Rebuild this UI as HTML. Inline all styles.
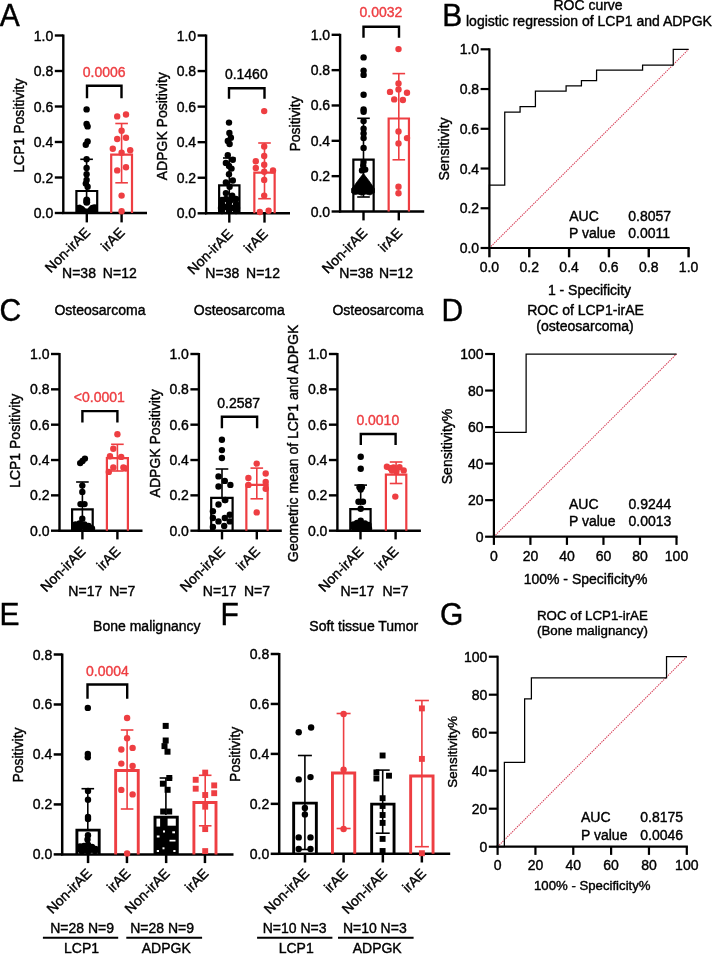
<!DOCTYPE html>
<html><head><meta charset="utf-8"><style>
html,body{margin:0;padding:0;background:#fff;width:713px;height:954px;overflow:hidden}
svg{display:block;will-change:transform}
text{font-family:"Liberation Sans", sans-serif}
</style></head><body>
<svg width="713" height="954" viewBox="0 0 713 954" font-family='"Liberation Sans", sans-serif'>
<rect width="713" height="954" fill="#fff"/>
<text transform="translate(-0.3,25.8) scale(1,1.075)" x="0" y="0" font-size="30" fill="#000" stroke="#000" stroke-width="0.4">A</text>
<text transform="translate(442.2,26.0) scale(1,1.075)" x="0" y="0" font-size="30" fill="#000" stroke="#000" stroke-width="0.4">B</text>
<text transform="translate(-0.5,320.9) scale(1,1.075)" x="0" y="0" font-size="30" fill="#000" stroke="#000" stroke-width="0.4">C</text>
<text transform="translate(441.6,320.8) scale(1,1.075)" x="0" y="0" font-size="30" fill="#000" stroke="#000" stroke-width="0.4">D</text>
<text transform="translate(-0.5,625.2) scale(1,1.075)" x="0" y="0" font-size="30" fill="#000" stroke="#000" stroke-width="0.4">E</text>
<text transform="translate(220.5,625.0) scale(1,1.075)" x="0" y="0" font-size="30" fill="#000" stroke="#000" stroke-width="0.4">F</text>
<text transform="translate(440.0,625.4) scale(1,1.075)" x="0" y="0" font-size="30" fill="#000" stroke="#000" stroke-width="0.4">G</text>
<line x1="63.30" y1="34.50" x2="63.30" y2="214.00" stroke="#000" stroke-width="2.4" />
<line x1="62.20" y1="213.00" x2="147.00" y2="213.00" stroke="#000" stroke-width="2.4" />
<line x1="54.80" y1="213.00" x2="63.30" y2="213.00" stroke="#000" stroke-width="2.4" />
<text x="53.30" y="218.00" font-size="14" text-anchor="end" fill="#000" stroke="#000" stroke-width="0.4" >0.0</text>
<line x1="54.80" y1="177.50" x2="63.30" y2="177.50" stroke="#000" stroke-width="2.4" />
<text x="53.30" y="182.50" font-size="14" text-anchor="end" fill="#000" stroke="#000" stroke-width="0.4" >0.2</text>
<line x1="54.80" y1="142.00" x2="63.30" y2="142.00" stroke="#000" stroke-width="2.4" />
<text x="53.30" y="147.00" font-size="14" text-anchor="end" fill="#000" stroke="#000" stroke-width="0.4" >0.4</text>
<line x1="54.80" y1="106.50" x2="63.30" y2="106.50" stroke="#000" stroke-width="2.4" />
<text x="53.30" y="111.50" font-size="14" text-anchor="end" fill="#000" stroke="#000" stroke-width="0.4" >0.6</text>
<line x1="54.80" y1="71.00" x2="63.30" y2="71.00" stroke="#000" stroke-width="2.4" />
<text x="53.30" y="76.00" font-size="14" text-anchor="end" fill="#000" stroke="#000" stroke-width="0.4" >0.8</text>
<line x1="54.80" y1="35.50" x2="63.30" y2="35.50" stroke="#000" stroke-width="2.4" />
<text x="53.30" y="40.50" font-size="14" text-anchor="end" fill="#000" stroke="#000" stroke-width="0.4" >1.0</text>
<path d="M76.40,213.00 L76.40,191.00 L97.20,191.00 L97.20,213.00" fill="none" stroke="#000" stroke-width="2.2" stroke-linejoin="miter"/>
<path d="M111.20,213.00 L111.20,154.60 L132.00,154.60 L132.00,213.00" fill="none" stroke="#EE3E42" stroke-width="2.2" stroke-linejoin="miter"/>
<line x1="86.80" y1="213.00" x2="86.80" y2="222.40" stroke="#000" stroke-width="2.4" />
<line x1="121.60" y1="213.00" x2="121.60" y2="222.40" stroke="#000" stroke-width="2.4" />
<circle cx="86.60" cy="109.40" r="3.2" fill="#000"/>
<circle cx="86.60" cy="123.90" r="3.2" fill="#000"/>
<circle cx="87.60" cy="126.40" r="3.2" fill="#000"/>
<circle cx="87.60" cy="141.50" r="3.2" fill="#000"/>
<circle cx="85.80" cy="144.70" r="3.2" fill="#000"/>
<circle cx="86.60" cy="159.30" r="3.2" fill="#000"/>
<circle cx="86.60" cy="167.90" r="3.2" fill="#000"/>
<circle cx="86.60" cy="174.20" r="3.2" fill="#000"/>
<circle cx="86.60" cy="179.90" r="3.2" fill="#000"/>
<circle cx="85.80" cy="183.60" r="3.2" fill="#000"/>
<circle cx="87.60" cy="186.80" r="3.2" fill="#000"/>
<line x1="86.60" y1="159.30" x2="86.60" y2="200.00" stroke="#000" stroke-width="1.6" />
<line x1="80.30" y1="159.30" x2="92.90" y2="159.30" stroke="#000" stroke-width="1.6" />
<circle cx="86.70" cy="200.00" r="3.5" fill="#000"/>
<circle cx="86.70" cy="202.30" r="3.5" fill="#000"/>
<polygon points="76.2,213 76.2,205.2 80,204.5 83.5,206.2 85.8,208.4 87.6,208.4 90.5,205.3 94,204.2 97.4,204.5 97.4,213" fill="#000"/>
<circle cx="117.20" cy="116.40" r="3.2" fill="#EE3E42"/>
<circle cx="126.00" cy="114.50" r="3.2" fill="#EE3E42"/>
<circle cx="121.60" cy="130.80" r="3.2" fill="#EE3E42"/>
<circle cx="117.20" cy="139.00" r="3.2" fill="#EE3E42"/>
<circle cx="126.00" cy="137.70" r="3.2" fill="#EE3E42"/>
<circle cx="112.80" cy="148.80" r="3.2" fill="#EE3E42"/>
<circle cx="121.60" cy="152.80" r="3.2" fill="#EE3E42"/>
<circle cx="130.20" cy="150.30" r="3.2" fill="#EE3E42"/>
<circle cx="117.20" cy="170.40" r="3.2" fill="#EE3E42"/>
<circle cx="126.00" cy="167.30" r="3.2" fill="#EE3E42"/>
<circle cx="121.60" cy="195.60" r="3.2" fill="#EE3E42"/>
<circle cx="121.60" cy="211.30" r="3.2" fill="#EE3E42"/>
<line x1="121.60" y1="123.50" x2="121.60" y2="182.80" stroke="#EE3E42" stroke-width="1.6" />
<line x1="115.30" y1="123.50" x2="127.90" y2="123.50" stroke="#EE3E42" stroke-width="1.6" />
<line x1="115.30" y1="182.80" x2="127.90" y2="182.80" stroke="#EE3E42" stroke-width="1.6" />
<polyline points="87.00,98.30 87.00,85.70 121.50,85.70 121.50,98.30" fill="none" stroke="#000" stroke-width="2.4" stroke-linejoin="miter"/>
<text x="104.20" y="77.20" font-size="14" text-anchor="middle" fill="#EE3E42" stroke="#EE3E42" stroke-width="0.4" >0.0006</text>
<text x="24.40" y="125.60" font-size="14" text-anchor="middle" fill="#000" stroke="#000" stroke-width="0.4" transform="rotate(-90 24.40 125.60)" >LCP1 Positivity</text>
<text x="91.00" y="233.30" font-size="14" text-anchor="end" fill="#000" stroke="#000" stroke-width="0.4" transform="rotate(-45 91.00 233.30)" >Non-irAE</text>
<text x="125.50" y="233.30" font-size="14" text-anchor="end" fill="#000" stroke="#000" stroke-width="0.4" transform="rotate(-45 125.50 233.30)" >irAE</text>
<text x="79.00" y="277.70" font-size="14" text-anchor="middle" fill="#000" stroke="#000" stroke-width="0.4" >N=38</text>
<text x="119.80" y="277.70" font-size="14" text-anchor="middle" fill="#000" stroke="#000" stroke-width="0.4" >N=12</text>
<line x1="206.10" y1="34.50" x2="206.10" y2="214.30" stroke="#000" stroke-width="2.4" />
<line x1="205.00" y1="213.30" x2="290.00" y2="213.30" stroke="#000" stroke-width="2.4" />
<line x1="197.60" y1="213.30" x2="206.10" y2="213.30" stroke="#000" stroke-width="2.4" />
<text x="196.10" y="218.30" font-size="14" text-anchor="end" fill="#000" stroke="#000" stroke-width="0.4" >0.0</text>
<line x1="197.60" y1="177.74" x2="206.10" y2="177.74" stroke="#000" stroke-width="2.4" />
<text x="196.10" y="182.74" font-size="14" text-anchor="end" fill="#000" stroke="#000" stroke-width="0.4" >0.2</text>
<line x1="197.60" y1="142.18" x2="206.10" y2="142.18" stroke="#000" stroke-width="2.4" />
<text x="196.10" y="147.18" font-size="14" text-anchor="end" fill="#000" stroke="#000" stroke-width="0.4" >0.4</text>
<line x1="197.60" y1="106.62" x2="206.10" y2="106.62" stroke="#000" stroke-width="2.4" />
<text x="196.10" y="111.62" font-size="14" text-anchor="end" fill="#000" stroke="#000" stroke-width="0.4" >0.6</text>
<line x1="197.60" y1="71.06" x2="206.10" y2="71.06" stroke="#000" stroke-width="2.4" />
<text x="196.10" y="76.06" font-size="14" text-anchor="end" fill="#000" stroke="#000" stroke-width="0.4" >0.8</text>
<line x1="197.60" y1="35.50" x2="206.10" y2="35.50" stroke="#000" stroke-width="2.4" />
<text x="196.10" y="40.50" font-size="14" text-anchor="end" fill="#000" stroke="#000" stroke-width="0.4" >1.0</text>
<path d="M219.15,213.30 L219.15,185.40 L239.45,185.40 L239.45,213.30" fill="none" stroke="#000" stroke-width="2.2" stroke-linejoin="miter"/>
<path d="M254.35,213.30 L254.35,172.60 L274.65,172.60 L274.65,213.30" fill="none" stroke="#EE3E42" stroke-width="2.2" stroke-linejoin="miter"/>
<line x1="229.30" y1="213.30" x2="229.30" y2="222.60" stroke="#000" stroke-width="2.4" />
<line x1="264.50" y1="213.30" x2="264.50" y2="222.60" stroke="#000" stroke-width="2.4" />
<circle cx="229.00" cy="122.60" r="3.2" fill="#000"/>
<circle cx="229.40" cy="133.00" r="3.2" fill="#000"/>
<circle cx="230.90" cy="137.70" r="3.2" fill="#000"/>
<circle cx="227.80" cy="140.90" r="3.2" fill="#000"/>
<circle cx="229.60" cy="144.00" r="3.2" fill="#000"/>
<circle cx="227.80" cy="155.30" r="3.2" fill="#000"/>
<circle cx="232.80" cy="159.70" r="3.2" fill="#000"/>
<circle cx="225.90" cy="162.90" r="3.2" fill="#000"/>
<circle cx="229.00" cy="166.00" r="3.2" fill="#000"/>
<circle cx="231.50" cy="168.60" r="3.2" fill="#000"/>
<circle cx="229.00" cy="174.20" r="3.2" fill="#000"/>
<circle cx="225.90" cy="182.40" r="3.2" fill="#000"/>
<circle cx="232.80" cy="180.50" r="3.2" fill="#000"/>
<circle cx="229.60" cy="186.80" r="3.2" fill="#000"/>
<circle cx="225.90" cy="193.10" r="3.2" fill="#000"/>
<circle cx="232.20" cy="195.60" r="3.2" fill="#000"/>
<circle cx="222.00" cy="200.00" r="3.2" fill="#000"/>
<circle cx="226.00" cy="199.00" r="3.2" fill="#000"/>
<circle cx="231.00" cy="200.00" r="3.2" fill="#000"/>
<circle cx="236.00" cy="199.00" r="3.2" fill="#000"/>
<circle cx="222.00" cy="204.00" r="3.2" fill="#000"/>
<circle cx="229.00" cy="203.00" r="3.2" fill="#000"/>
<circle cx="236.00" cy="204.00" r="3.2" fill="#000"/>
<circle cx="221.00" cy="208.00" r="3.2" fill="#000"/>
<circle cx="226.00" cy="207.00" r="3.2" fill="#000"/>
<circle cx="232.00" cy="208.00" r="3.2" fill="#000"/>
<circle cx="237.00" cy="208.00" r="3.2" fill="#000"/>
<circle cx="222.00" cy="211.00" r="3.2" fill="#000"/>
<circle cx="229.00" cy="211.00" r="3.2" fill="#000"/>
<circle cx="236.00" cy="211.00" r="3.2" fill="#000"/>
<line x1="229.30" y1="158.00" x2="229.30" y2="212.00" stroke="#000" stroke-width="1.6" />
<line x1="223.00" y1="158.00" x2="235.60" y2="158.00" stroke="#000" stroke-width="1.6" />
<circle cx="264.20" cy="111.10" r="3.2" fill="#EE3E42"/>
<circle cx="264.20" cy="146.50" r="3.2" fill="#EE3E42"/>
<circle cx="264.20" cy="156.00" r="3.2" fill="#EE3E42"/>
<circle cx="255.80" cy="161.30" r="3.2" fill="#EE3E42"/>
<circle cx="264.20" cy="164.80" r="3.2" fill="#EE3E42"/>
<circle cx="255.80" cy="167.90" r="3.2" fill="#EE3E42"/>
<circle cx="264.20" cy="171.70" r="3.2" fill="#EE3E42"/>
<circle cx="273.00" cy="170.40" r="3.2" fill="#EE3E42"/>
<circle cx="264.20" cy="179.90" r="3.2" fill="#EE3E42"/>
<circle cx="264.20" cy="195.60" r="3.2" fill="#EE3E42"/>
<circle cx="259.80" cy="212.00" r="3.2" fill="#EE3E42"/>
<circle cx="268.60" cy="210.70" r="3.2" fill="#EE3E42"/>
<line x1="264.50" y1="143.00" x2="264.50" y2="198.70" stroke="#EE3E42" stroke-width="1.6" />
<line x1="258.20" y1="143.00" x2="270.80" y2="143.00" stroke="#EE3E42" stroke-width="1.6" />
<line x1="258.20" y1="198.70" x2="270.80" y2="198.70" stroke="#EE3E42" stroke-width="1.6" />
<polyline points="229.00,98.70 229.00,88.20 264.50,88.20 264.50,98.70" fill="none" stroke="#000" stroke-width="2.4" stroke-linejoin="miter"/>
<text x="246.30" y="79.20" font-size="14" text-anchor="middle" fill="#000" stroke="#000" stroke-width="0.4" >0.1460</text>
<text x="166.80" y="126.20" font-size="14" text-anchor="middle" fill="#000" stroke="#000" stroke-width="0.4" transform="rotate(-90 166.80 126.20)" >ADPGK Positivity</text>
<text x="233.50" y="235.00" font-size="14" text-anchor="end" fill="#000" stroke="#000" stroke-width="0.4" transform="rotate(-45 233.50 235.00)" >Non-irAE</text>
<text x="268.50" y="235.00" font-size="14" text-anchor="end" fill="#000" stroke="#000" stroke-width="0.4" transform="rotate(-45 268.50 235.00)" >irAE</text>
<text x="222.30" y="277.70" font-size="14" text-anchor="middle" fill="#000" stroke="#000" stroke-width="0.4" >N=38</text>
<text x="263.00" y="277.70" font-size="14" text-anchor="middle" fill="#000" stroke="#000" stroke-width="0.4" >N=12</text>
<line x1="340.10" y1="33.80" x2="340.10" y2="212.50" stroke="#000" stroke-width="2.4" />
<line x1="339.00" y1="211.50" x2="424.20" y2="211.50" stroke="#000" stroke-width="2.4" />
<line x1="331.60" y1="211.50" x2="340.10" y2="211.50" stroke="#000" stroke-width="2.4" />
<text x="330.10" y="216.50" font-size="14" text-anchor="end" fill="#000" stroke="#000" stroke-width="0.4" >0.0</text>
<line x1="331.60" y1="176.16" x2="340.10" y2="176.16" stroke="#000" stroke-width="2.4" />
<text x="330.10" y="181.16" font-size="14" text-anchor="end" fill="#000" stroke="#000" stroke-width="0.4" >0.2</text>
<line x1="331.60" y1="140.82" x2="340.10" y2="140.82" stroke="#000" stroke-width="2.4" />
<text x="330.10" y="145.82" font-size="14" text-anchor="end" fill="#000" stroke="#000" stroke-width="0.4" >0.4</text>
<line x1="331.60" y1="105.48" x2="340.10" y2="105.48" stroke="#000" stroke-width="2.4" />
<text x="330.10" y="110.48" font-size="14" text-anchor="end" fill="#000" stroke="#000" stroke-width="0.4" >0.6</text>
<line x1="331.60" y1="70.14" x2="340.10" y2="70.14" stroke="#000" stroke-width="2.4" />
<text x="330.10" y="75.14" font-size="14" text-anchor="end" fill="#000" stroke="#000" stroke-width="0.4" >0.8</text>
<line x1="331.60" y1="34.80" x2="340.10" y2="34.80" stroke="#000" stroke-width="2.4" />
<text x="330.10" y="39.80" font-size="14" text-anchor="end" fill="#000" stroke="#000" stroke-width="0.4" >1.0</text>
<path d="M353.35,211.50 L353.35,159.70 L373.65,159.70 L373.65,211.50" fill="none" stroke="#000" stroke-width="2.2" stroke-linejoin="miter"/>
<path d="M388.65,211.50 L388.65,118.50 L408.95,118.50 L408.95,211.50" fill="none" stroke="#EE3E42" stroke-width="2.2" stroke-linejoin="miter"/>
<line x1="363.50" y1="211.50" x2="363.50" y2="220.40" stroke="#000" stroke-width="2.4" />
<line x1="398.80" y1="211.50" x2="398.80" y2="220.40" stroke="#000" stroke-width="2.4" />
<circle cx="363.60" cy="57.40" r="3.2" fill="#000"/>
<circle cx="363.60" cy="70.60" r="3.2" fill="#000"/>
<circle cx="363.60" cy="74.90" r="3.2" fill="#000"/>
<circle cx="363.60" cy="94.70" r="3.2" fill="#000"/>
<circle cx="363.60" cy="109.40" r="3.2" fill="#000"/>
<circle cx="363.60" cy="111.70" r="3.2" fill="#000"/>
<circle cx="363.60" cy="121.10" r="3.2" fill="#000"/>
<circle cx="363.60" cy="128.70" r="3.2" fill="#000"/>
<circle cx="363.60" cy="133.40" r="3.2" fill="#000"/>
<circle cx="363.60" cy="138.10" r="3.2" fill="#000"/>
<circle cx="363.60" cy="147.90" r="3.2" fill="#000"/>
<circle cx="363.50" cy="162.00" r="3.2" fill="#000"/>
<circle cx="363.20" cy="165.50" r="3.2" fill="#000"/>
<circle cx="365.20" cy="169.60" r="3.2" fill="#000"/>
<circle cx="362.00" cy="170.40" r="3.2" fill="#000"/>
<line x1="363.50" y1="118.30" x2="363.50" y2="197.00" stroke="#000" stroke-width="1.6" />
<line x1="357.20" y1="118.30" x2="369.80" y2="118.30" stroke="#000" stroke-width="1.6" />
<line x1="357.20" y1="197.00" x2="369.80" y2="197.00" stroke="#000" stroke-width="1.6" />
<polygon points="363.4,173.6 358,180.5 354,186 351.6,188.6 351.6,192.8 354.5,194.6 358,194 361.5,195.2 366,194 370,195 374.4,192.8 374.4,188.6 372.6,186 368.8,180.5" fill="#000" stroke="#000" stroke-width="0.8" stroke-linejoin="round"/>
<circle cx="398.50" cy="49.10" r="3.2" fill="#EE3E42"/>
<circle cx="398.50" cy="83.40" r="3.2" fill="#EE3E42"/>
<circle cx="398.50" cy="89.40" r="3.2" fill="#EE3E42"/>
<circle cx="390.00" cy="91.90" r="3.2" fill="#EE3E42"/>
<circle cx="407.00" cy="92.80" r="3.2" fill="#EE3E42"/>
<circle cx="394.20" cy="99.40" r="3.2" fill="#EE3E42"/>
<circle cx="402.90" cy="100.00" r="3.2" fill="#EE3E42"/>
<circle cx="398.50" cy="131.50" r="3.2" fill="#EE3E42"/>
<circle cx="407.00" cy="138.10" r="3.2" fill="#EE3E42"/>
<circle cx="398.50" cy="143.40" r="3.2" fill="#EE3E42"/>
<circle cx="398.50" cy="186.80" r="3.2" fill="#EE3E42"/>
<circle cx="398.50" cy="193.20" r="3.2" fill="#EE3E42"/>
<line x1="398.80" y1="73.60" x2="398.80" y2="159.80" stroke="#EE3E42" stroke-width="1.6" />
<line x1="392.50" y1="73.60" x2="405.10" y2="73.60" stroke="#EE3E42" stroke-width="1.6" />
<line x1="392.50" y1="159.80" x2="405.10" y2="159.80" stroke="#EE3E42" stroke-width="1.6" />
<polyline points="363.50,37.70 363.50,26.80 399.00,26.80 399.00,37.70" fill="none" stroke="#000" stroke-width="2.4" stroke-linejoin="miter"/>
<text x="381.00" y="17.30" font-size="14" text-anchor="middle" fill="#EE3E42" stroke="#EE3E42" stroke-width="0.4" >0.0032</text>
<text x="300.30" y="123.90" font-size="14" text-anchor="middle" fill="#000" stroke="#000" stroke-width="0.4" transform="rotate(-90 300.30 123.90)" >Positivity</text>
<text x="368.00" y="234.00" font-size="14" text-anchor="end" fill="#000" stroke="#000" stroke-width="0.4" transform="rotate(-45 368.00 234.00)" >Non-irAE</text>
<text x="403.00" y="234.00" font-size="14" text-anchor="end" fill="#000" stroke="#000" stroke-width="0.4" transform="rotate(-45 403.00 234.00)" >irAE</text>
<text x="356.30" y="277.70" font-size="14" text-anchor="middle" fill="#000" stroke="#000" stroke-width="0.4" >N=38</text>
<text x="396.00" y="277.70" font-size="14" text-anchor="middle" fill="#000" stroke="#000" stroke-width="0.4" >N=12</text>
<line x1="489.40" y1="248.00" x2="688.60" y2="49.30" stroke="#D63C55" stroke-width="1.1" stroke-dasharray="1.3 1.0"/>
<polyline points="489.40,248.00 489.40,185.21 504.74,185.21 504.74,112.09 520.08,112.09 520.08,106.72 535.42,106.72 535.42,91.23 566.09,91.23 566.09,85.86 581.43,85.86 581.43,80.69 596.57,80.69 596.57,70.16 642.58,70.16 642.58,65.00 673.26,65.00 673.26,49.30 688.60,49.30" fill="none" stroke="#000" stroke-width="1.25" />
<line x1="489.40" y1="48.30" x2="489.40" y2="249.00" stroke="#000" stroke-width="2.2" />
<line x1="488.30" y1="248.00" x2="689.70" y2="248.00" stroke="#000" stroke-width="2.2" />
<line x1="480.60" y1="248.00" x2="489.40" y2="248.00" stroke="#000" stroke-width="2.2" />
<text x="479.10" y="253.00" font-size="14" text-anchor="end" fill="#000" stroke="#000" stroke-width="0.4" >0.0</text>
<line x1="489.40" y1="248.00" x2="489.40" y2="257.30" stroke="#000" stroke-width="2.4" />
<text x="489.40" y="271.80" font-size="14" text-anchor="middle" fill="#000" stroke="#000" stroke-width="0.4" >0.0</text>
<line x1="480.60" y1="208.26" x2="489.40" y2="208.26" stroke="#000" stroke-width="2.2" />
<text x="479.10" y="213.26" font-size="14" text-anchor="end" fill="#000" stroke="#000" stroke-width="0.4" >0.2</text>
<line x1="529.24" y1="248.00" x2="529.24" y2="257.30" stroke="#000" stroke-width="2.4" />
<text x="529.24" y="271.80" font-size="14" text-anchor="middle" fill="#000" stroke="#000" stroke-width="0.4" >0.2</text>
<line x1="480.60" y1="168.52" x2="489.40" y2="168.52" stroke="#000" stroke-width="2.2" />
<text x="479.10" y="173.52" font-size="14" text-anchor="end" fill="#000" stroke="#000" stroke-width="0.4" >0.4</text>
<line x1="569.08" y1="248.00" x2="569.08" y2="257.30" stroke="#000" stroke-width="2.4" />
<text x="569.08" y="271.80" font-size="14" text-anchor="middle" fill="#000" stroke="#000" stroke-width="0.4" >0.4</text>
<line x1="480.60" y1="128.78" x2="489.40" y2="128.78" stroke="#000" stroke-width="2.2" />
<text x="479.10" y="133.78" font-size="14" text-anchor="end" fill="#000" stroke="#000" stroke-width="0.4" >0.6</text>
<line x1="608.92" y1="248.00" x2="608.92" y2="257.30" stroke="#000" stroke-width="2.4" />
<text x="608.92" y="271.80" font-size="14" text-anchor="middle" fill="#000" stroke="#000" stroke-width="0.4" >0.6</text>
<line x1="480.60" y1="89.04" x2="489.40" y2="89.04" stroke="#000" stroke-width="2.2" />
<text x="479.10" y="94.04" font-size="14" text-anchor="end" fill="#000" stroke="#000" stroke-width="0.4" >0.8</text>
<line x1="648.76" y1="248.00" x2="648.76" y2="257.30" stroke="#000" stroke-width="2.4" />
<text x="648.76" y="271.80" font-size="14" text-anchor="middle" fill="#000" stroke="#000" stroke-width="0.4" >0.8</text>
<line x1="480.60" y1="49.30" x2="489.40" y2="49.30" stroke="#000" stroke-width="2.2" />
<text x="479.10" y="54.30" font-size="14" text-anchor="end" fill="#000" stroke="#000" stroke-width="0.4" >1.0</text>
<line x1="688.60" y1="248.00" x2="688.60" y2="257.30" stroke="#000" stroke-width="2.4" />
<text x="688.60" y="271.80" font-size="14" text-anchor="middle" fill="#000" stroke="#000" stroke-width="0.4" >1.0</text>
<text x="589.50" y="294.80" font-size="14" text-anchor="middle" fill="#000" stroke="#000" stroke-width="0.4" >1 - Specificity</text>
<text x="449.50" y="148.90" font-size="14" text-anchor="middle" fill="#000" stroke="#000" stroke-width="0.4" transform="rotate(-90 449.50 148.90)" >Sensitivity</text>
<text x="569.20" y="220.80" font-size="14" text-anchor="start" fill="#000" stroke="#000" stroke-width="0.4" >AUC</text>
<text x="628.30" y="220.80" font-size="14" text-anchor="start" fill="#000" stroke="#000" stroke-width="0.4" >0.8057</text>
<text x="569.00" y="238.40" font-size="14" text-anchor="start" fill="#000" stroke="#000" stroke-width="0.4" >P value</text>
<text x="628.30" y="238.40" font-size="14" text-anchor="start" fill="#000" stroke="#000" stroke-width="0.4" >0.0011</text>
<text x="588.00" y="10.20" font-size="14" text-anchor="middle" fill="#000" stroke="#000" stroke-width="0.4" >ROC curve</text>
<text x="466.00" y="26.00" font-size="14" text-anchor="start" fill="#000" stroke="#000" stroke-width="0.4" >logistic regression of LCP1 and ADPGK</text>
<text x="100.00" y="315.10" font-size="14" text-anchor="middle" fill="#000" stroke="#000" stroke-width="0.4" >Osteosarcoma</text>
<line x1="59.50" y1="353.00" x2="59.50" y2="531.70" stroke="#000" stroke-width="2.4" />
<line x1="58.40" y1="530.70" x2="142.50" y2="530.70" stroke="#000" stroke-width="2.4" />
<line x1="51.00" y1="530.70" x2="59.50" y2="530.70" stroke="#000" stroke-width="2.4" />
<text x="49.50" y="535.70" font-size="14" text-anchor="end" fill="#000" stroke="#000" stroke-width="0.4" >0.0</text>
<line x1="51.00" y1="495.36" x2="59.50" y2="495.36" stroke="#000" stroke-width="2.4" />
<text x="49.50" y="500.36" font-size="14" text-anchor="end" fill="#000" stroke="#000" stroke-width="0.4" >0.2</text>
<line x1="51.00" y1="460.02" x2="59.50" y2="460.02" stroke="#000" stroke-width="2.4" />
<text x="49.50" y="465.02" font-size="14" text-anchor="end" fill="#000" stroke="#000" stroke-width="0.4" >0.4</text>
<line x1="51.00" y1="424.68" x2="59.50" y2="424.68" stroke="#000" stroke-width="2.4" />
<text x="49.50" y="429.68" font-size="14" text-anchor="end" fill="#000" stroke="#000" stroke-width="0.4" >0.6</text>
<line x1="51.00" y1="389.34" x2="59.50" y2="389.34" stroke="#000" stroke-width="2.4" />
<text x="49.50" y="394.34" font-size="14" text-anchor="end" fill="#000" stroke="#000" stroke-width="0.4" >0.8</text>
<line x1="51.00" y1="354.00" x2="59.50" y2="354.00" stroke="#000" stroke-width="2.4" />
<text x="49.50" y="359.00" font-size="14" text-anchor="end" fill="#000" stroke="#000" stroke-width="0.4" >1.0</text>
<path d="M72.10,530.70 L72.10,509.40 L92.70,509.40 L92.70,530.70" fill="none" stroke="#000" stroke-width="2.2" stroke-linejoin="miter"/>
<path d="M106.90,530.70 L106.90,458.20 L127.90,458.20 L127.90,530.70" fill="none" stroke="#EE3E42" stroke-width="2.2" stroke-linejoin="miter"/>
<line x1="82.40" y1="530.70" x2="82.40" y2="539.40" stroke="#000" stroke-width="2.4" />
<line x1="117.40" y1="530.70" x2="117.40" y2="539.40" stroke="#000" stroke-width="2.4" />
<circle cx="80.20" cy="463.10" r="3.2" fill="#000"/>
<circle cx="82.50" cy="460.90" r="3.2" fill="#000"/>
<circle cx="84.90" cy="458.60" r="3.2" fill="#000"/>
<circle cx="82.30" cy="485.60" r="3.2" fill="#000"/>
<circle cx="82.30" cy="491.90" r="3.2" fill="#000"/>
<circle cx="80.50" cy="504.10" r="3.2" fill="#000"/>
<circle cx="84.50" cy="504.10" r="3.2" fill="#000"/>
<circle cx="82.30" cy="518.80" r="3.2" fill="#000"/>
<circle cx="75.50" cy="524.50" r="3.2" fill="#000"/>
<circle cx="79.50" cy="523.50" r="3.2" fill="#000"/>
<circle cx="84.50" cy="524.50" r="3.2" fill="#000"/>
<circle cx="88.50" cy="526.00" r="3.2" fill="#000"/>
<circle cx="75.00" cy="527.50" r="3.2" fill="#000"/>
<circle cx="80.00" cy="527.50" r="3.2" fill="#000"/>
<circle cx="85.00" cy="527.50" r="3.2" fill="#000"/>
<circle cx="90.00" cy="528.00" r="3.2" fill="#000"/>
<circle cx="78.50" cy="528.00" r="3.2" fill="#000"/>
<circle cx="92.00" cy="528.50" r="3.2" fill="#000"/>
<line x1="82.40" y1="482.00" x2="82.40" y2="520.00" stroke="#000" stroke-width="1.6" />
<line x1="76.10" y1="482.00" x2="88.70" y2="482.00" stroke="#000" stroke-width="1.6" />
<circle cx="117.40" cy="434.20" r="3.2" fill="#EE3E42"/>
<circle cx="113.30" cy="448.80" r="3.2" fill="#EE3E42"/>
<circle cx="110.00" cy="456.20" r="3.2" fill="#EE3E42"/>
<circle cx="121.20" cy="456.90" r="3.2" fill="#EE3E42"/>
<circle cx="113.30" cy="467.40" r="3.2" fill="#EE3E42"/>
<circle cx="123.40" cy="467.40" r="3.2" fill="#EE3E42"/>
<circle cx="108.80" cy="471.90" r="3.2" fill="#EE3E42"/>
<circle cx="125.70" cy="468.50" r="3.2" fill="#EE3E42"/>
<line x1="117.40" y1="444.30" x2="117.40" y2="471.00" stroke="#EE3E42" stroke-width="1.6" />
<line x1="111.10" y1="444.30" x2="123.70" y2="444.30" stroke="#EE3E42" stroke-width="1.6" />
<line x1="111.10" y1="471.00" x2="123.70" y2="471.00" stroke="#EE3E42" stroke-width="1.6" />
<polyline points="82.40,422.50 82.40,411.10 117.40,411.10 117.40,422.50" fill="none" stroke="#000" stroke-width="2.4" stroke-linejoin="miter"/>
<text x="99.30" y="401.80" font-size="14" text-anchor="middle" fill="#EE3E42" stroke="#EE3E42" stroke-width="0.4" >&lt;0.0001</text>
<text x="20.50" y="440.80" font-size="14" text-anchor="middle" fill="#000" stroke="#000" stroke-width="0.4" transform="rotate(-90 20.50 440.80)" >LCP1 Positivity</text>
<text x="86.30" y="552.50" font-size="14" text-anchor="end" fill="#000" stroke="#000" stroke-width="0.4" transform="rotate(-45 86.30 552.50)" >Non-irAE</text>
<text x="121.30" y="552.50" font-size="14" text-anchor="end" fill="#000" stroke="#000" stroke-width="0.4" transform="rotate(-45 121.30 552.50)" >irAE</text>
<text x="85.30" y="596.00" font-size="14" text-anchor="middle" fill="#000" stroke="#000" stroke-width="0.4" >N=17</text>
<text x="122.30" y="596.00" font-size="14" text-anchor="middle" fill="#000" stroke="#000" stroke-width="0.4" >N=7</text>
<text x="239.30" y="315.10" font-size="14" text-anchor="middle" fill="#000" stroke="#000" stroke-width="0.4" >Osteosarcoma</text>
<line x1="198.90" y1="353.00" x2="198.90" y2="531.70" stroke="#000" stroke-width="2.4" />
<line x1="197.80" y1="530.70" x2="281.80" y2="530.70" stroke="#000" stroke-width="2.4" />
<line x1="190.40" y1="530.70" x2="198.90" y2="530.70" stroke="#000" stroke-width="2.4" />
<text x="188.90" y="535.70" font-size="14" text-anchor="end" fill="#000" stroke="#000" stroke-width="0.4" >0.0</text>
<line x1="190.40" y1="495.36" x2="198.90" y2="495.36" stroke="#000" stroke-width="2.4" />
<text x="188.90" y="500.36" font-size="14" text-anchor="end" fill="#000" stroke="#000" stroke-width="0.4" >0.2</text>
<line x1="190.40" y1="460.02" x2="198.90" y2="460.02" stroke="#000" stroke-width="2.4" />
<text x="188.90" y="465.02" font-size="14" text-anchor="end" fill="#000" stroke="#000" stroke-width="0.4" >0.4</text>
<line x1="190.40" y1="424.68" x2="198.90" y2="424.68" stroke="#000" stroke-width="2.4" />
<text x="188.90" y="429.68" font-size="14" text-anchor="end" fill="#000" stroke="#000" stroke-width="0.4" >0.6</text>
<line x1="190.40" y1="389.34" x2="198.90" y2="389.34" stroke="#000" stroke-width="2.4" />
<text x="188.90" y="394.34" font-size="14" text-anchor="end" fill="#000" stroke="#000" stroke-width="0.4" >0.8</text>
<line x1="190.40" y1="354.00" x2="198.90" y2="354.00" stroke="#000" stroke-width="2.4" />
<text x="188.90" y="359.00" font-size="14" text-anchor="end" fill="#000" stroke="#000" stroke-width="0.4" >1.0</text>
<path d="M211.20,530.70 L211.20,497.90 L232.60,497.90 L232.60,530.70" fill="none" stroke="#000" stroke-width="2.2" stroke-linejoin="miter"/>
<path d="M246.35,530.70 L246.35,484.90 L267.65,484.90 L267.65,530.70" fill="none" stroke="#EE3E42" stroke-width="2.2" stroke-linejoin="miter"/>
<line x1="222.00" y1="530.70" x2="222.00" y2="539.40" stroke="#000" stroke-width="2.4" />
<line x1="256.80" y1="530.70" x2="256.80" y2="539.40" stroke="#000" stroke-width="2.4" />
<circle cx="221.90" cy="439.80" r="3.2" fill="#000"/>
<circle cx="221.90" cy="450.10" r="3.2" fill="#000"/>
<circle cx="221.90" cy="458.00" r="3.2" fill="#000"/>
<circle cx="218.50" cy="476.40" r="3.2" fill="#000"/>
<circle cx="224.80" cy="480.90" r="3.2" fill="#000"/>
<circle cx="218.50" cy="486.50" r="3.2" fill="#000"/>
<circle cx="230.40" cy="484.90" r="3.2" fill="#000"/>
<circle cx="225.30" cy="500.00" r="3.2" fill="#000"/>
<circle cx="218.50" cy="504.50" r="3.2" fill="#000"/>
<circle cx="224.80" cy="500.10" r="3.2" fill="#000"/>
<circle cx="212.90" cy="511.30" r="3.2" fill="#000"/>
<circle cx="229.80" cy="514.70" r="3.2" fill="#000"/>
<circle cx="212.90" cy="518.00" r="3.2" fill="#000"/>
<circle cx="218.50" cy="521.40" r="3.2" fill="#000"/>
<circle cx="224.80" cy="518.00" r="3.2" fill="#000"/>
<circle cx="229.80" cy="521.40" r="3.2" fill="#000"/>
<circle cx="212.90" cy="527.00" r="3.2" fill="#000"/>
<circle cx="224.20" cy="525.90" r="3.2" fill="#000"/>
<line x1="222.00" y1="469.00" x2="222.00" y2="497.00" stroke="#000" stroke-width="1.6" />
<line x1="215.70" y1="469.00" x2="228.30" y2="469.00" stroke="#000" stroke-width="1.6" />
<circle cx="256.70" cy="463.60" r="3.2" fill="#EE3E42"/>
<circle cx="248.40" cy="478.00" r="3.2" fill="#EE3E42"/>
<circle cx="265.70" cy="473.50" r="3.2" fill="#EE3E42"/>
<circle cx="265.70" cy="482.00" r="3.2" fill="#EE3E42"/>
<circle cx="248.40" cy="484.90" r="3.2" fill="#EE3E42"/>
<circle cx="265.70" cy="488.70" r="3.2" fill="#EE3E42"/>
<circle cx="256.70" cy="512.40" r="3.2" fill="#EE3E42"/>
<line x1="256.80" y1="468.10" x2="256.80" y2="498.80" stroke="#EE3E42" stroke-width="1.6" />
<line x1="250.50" y1="468.10" x2="263.10" y2="468.10" stroke="#EE3E42" stroke-width="1.6" />
<line x1="250.50" y1="498.80" x2="263.10" y2="498.80" stroke="#EE3E42" stroke-width="1.6" />
<polyline points="221.90,428.20 221.90,416.70 257.10,416.70 257.10,428.20" fill="none" stroke="#000" stroke-width="2.4" stroke-linejoin="miter"/>
<text x="238.70" y="408.00" font-size="14" text-anchor="middle" fill="#000" stroke="#000" stroke-width="0.4" >0.2587</text>
<text x="160.50" y="443.30" font-size="14" text-anchor="middle" fill="#000" stroke="#000" stroke-width="0.4" transform="rotate(-90 160.50 443.30)" >ADPGK Positivity</text>
<text x="225.80" y="552.50" font-size="14" text-anchor="end" fill="#000" stroke="#000" stroke-width="0.4" transform="rotate(-45 225.80 552.50)" >Non-irAE</text>
<text x="260.80" y="552.50" font-size="14" text-anchor="end" fill="#000" stroke="#000" stroke-width="0.4" transform="rotate(-45 260.80 552.50)" >irAE</text>
<text x="219.70" y="596.00" font-size="14" text-anchor="middle" fill="#000" stroke="#000" stroke-width="0.4" >N=17</text>
<text x="257.00" y="596.00" font-size="14" text-anchor="middle" fill="#000" stroke="#000" stroke-width="0.4" >N=7</text>
<text x="378.00" y="315.10" font-size="14" text-anchor="middle" fill="#000" stroke="#000" stroke-width="0.4" >Osteosarcoma</text>
<line x1="337.40" y1="353.00" x2="337.40" y2="531.70" stroke="#000" stroke-width="2.4" />
<line x1="336.30" y1="530.70" x2="420.90" y2="530.70" stroke="#000" stroke-width="2.4" />
<line x1="328.90" y1="530.70" x2="337.40" y2="530.70" stroke="#000" stroke-width="2.4" />
<text x="327.40" y="535.70" font-size="14" text-anchor="end" fill="#000" stroke="#000" stroke-width="0.4" >0.0</text>
<line x1="328.90" y1="495.36" x2="337.40" y2="495.36" stroke="#000" stroke-width="2.4" />
<text x="327.40" y="500.36" font-size="14" text-anchor="end" fill="#000" stroke="#000" stroke-width="0.4" >0.2</text>
<line x1="328.90" y1="460.02" x2="337.40" y2="460.02" stroke="#000" stroke-width="2.4" />
<text x="327.40" y="465.02" font-size="14" text-anchor="end" fill="#000" stroke="#000" stroke-width="0.4" >0.4</text>
<line x1="328.90" y1="424.68" x2="337.40" y2="424.68" stroke="#000" stroke-width="2.4" />
<text x="327.40" y="429.68" font-size="14" text-anchor="end" fill="#000" stroke="#000" stroke-width="0.4" >0.6</text>
<line x1="328.90" y1="389.34" x2="337.40" y2="389.34" stroke="#000" stroke-width="2.4" />
<text x="327.40" y="394.34" font-size="14" text-anchor="end" fill="#000" stroke="#000" stroke-width="0.4" >0.8</text>
<line x1="328.90" y1="354.00" x2="337.40" y2="354.00" stroke="#000" stroke-width="2.4" />
<text x="327.40" y="359.00" font-size="14" text-anchor="end" fill="#000" stroke="#000" stroke-width="0.4" >1.0</text>
<path d="M350.30,530.70 L350.30,509.20 L370.60,509.20 L370.60,530.70" fill="none" stroke="#000" stroke-width="2.2" stroke-linejoin="miter"/>
<path d="M385.90,530.70 L385.90,474.60 L406.30,474.60 L406.30,530.70" fill="none" stroke="#EE3E42" stroke-width="2.2" stroke-linejoin="miter"/>
<line x1="360.50" y1="530.70" x2="360.50" y2="539.40" stroke="#000" stroke-width="2.4" />
<line x1="395.60" y1="530.70" x2="395.60" y2="539.40" stroke="#000" stroke-width="2.4" />
<circle cx="360.70" cy="456.80" r="3.2" fill="#000"/>
<circle cx="360.70" cy="468.80" r="3.2" fill="#000"/>
<circle cx="359.50" cy="487.20" r="3.2" fill="#000"/>
<circle cx="361.90" cy="487.20" r="3.2" fill="#000"/>
<circle cx="360.70" cy="489.50" r="3.2" fill="#000"/>
<circle cx="358.50" cy="501.80" r="3.2" fill="#000"/>
<circle cx="363.00" cy="501.80" r="3.2" fill="#000"/>
<circle cx="360.70" cy="508.70" r="3.2" fill="#000"/>
<circle cx="360.70" cy="520.70" r="3.2" fill="#000"/>
<circle cx="353.50" cy="524.50" r="3.2" fill="#000"/>
<circle cx="357.00" cy="523.00" r="3.2" fill="#000"/>
<circle cx="361.00" cy="524.00" r="3.2" fill="#000"/>
<circle cx="365.00" cy="523.50" r="3.2" fill="#000"/>
<circle cx="368.50" cy="525.00" r="3.2" fill="#000"/>
<circle cx="354.00" cy="527.50" r="3.2" fill="#000"/>
<circle cx="358.50" cy="527.50" r="3.2" fill="#000"/>
<circle cx="363.00" cy="527.50" r="3.2" fill="#000"/>
<circle cx="367.50" cy="527.50" r="3.2" fill="#000"/>
<circle cx="369.00" cy="528.50" r="3.2" fill="#000"/>
<line x1="360.70" y1="485.10" x2="360.70" y2="505.00" stroke="#000" stroke-width="1.6" />
<line x1="354.40" y1="485.10" x2="367.00" y2="485.10" stroke="#000" stroke-width="1.6" />
<circle cx="386.90" cy="466.70" r="3.2" fill="#EE3E42"/>
<circle cx="390.50" cy="468.30" r="3.2" fill="#EE3E42"/>
<circle cx="393.50" cy="467.50" r="3.2" fill="#EE3E42"/>
<circle cx="399.50" cy="467.30" r="3.2" fill="#EE3E42"/>
<circle cx="403.70" cy="470.40" r="3.2" fill="#EE3E42"/>
<circle cx="396.40" cy="471.40" r="3.2" fill="#EE3E42"/>
<circle cx="392.00" cy="470.50" r="3.2" fill="#EE3E42"/>
<circle cx="395.30" cy="496.60" r="3.2" fill="#EE3E42"/>
<line x1="396.10" y1="462.00" x2="396.10" y2="483.50" stroke="#EE3E42" stroke-width="1.6" />
<line x1="389.80" y1="462.00" x2="402.40" y2="462.00" stroke="#EE3E42" stroke-width="1.6" />
<line x1="389.80" y1="483.50" x2="402.40" y2="483.50" stroke="#EE3E42" stroke-width="1.6" />
<polyline points="360.80,445.00 360.80,434.00 395.60,434.00 395.60,445.00" fill="none" stroke="#000" stroke-width="2.4" stroke-linejoin="miter"/>
<text x="377.80" y="424.80" font-size="14" text-anchor="middle" fill="#EE3E42" stroke="#EE3E42" stroke-width="0.4" >0.0010</text>
<text x="298.50" y="443.30" font-size="14" text-anchor="middle" fill="#000" stroke="#000" stroke-width="0.4" transform="rotate(-90 298.50 443.30)" >Geometric mean of LCP1 and ADPGK</text>
<text x="364.30" y="552.50" font-size="14" text-anchor="end" fill="#000" stroke="#000" stroke-width="0.4" transform="rotate(-45 364.30 552.50)" >Non-irAE</text>
<text x="399.30" y="552.50" font-size="14" text-anchor="end" fill="#000" stroke="#000" stroke-width="0.4" transform="rotate(-45 399.30 552.50)" >irAE</text>
<text x="357.40" y="596.00" font-size="14" text-anchor="middle" fill="#000" stroke="#000" stroke-width="0.4" >N=17</text>
<text x="395.50" y="596.00" font-size="14" text-anchor="middle" fill="#000" stroke="#000" stroke-width="0.4" >N=7</text>
<line x1="493.90" y1="536.70" x2="676.50" y2="354.00" stroke="#D63C55" stroke-width="1.1" stroke-dasharray="1.3 1.0"/>
<polyline points="493.90,536.70 493.90,432.30 526.12,432.30 526.12,354.00 676.50,354.00" fill="none" stroke="#000" stroke-width="1.25" />
<line x1="493.90" y1="353.00" x2="493.90" y2="537.70" stroke="#000" stroke-width="2.2" />
<line x1="492.80" y1="536.70" x2="677.60" y2="536.70" stroke="#000" stroke-width="2.2" />
<line x1="485.10" y1="536.70" x2="493.90" y2="536.70" stroke="#000" stroke-width="2.2" />
<text x="483.60" y="541.70" font-size="14" text-anchor="end" fill="#000" stroke="#000" stroke-width="0.4" >0</text>
<line x1="493.90" y1="536.70" x2="493.90" y2="544.90" stroke="#000" stroke-width="2.2" />
<text x="493.90" y="560.50" font-size="14" text-anchor="middle" fill="#000" stroke="#000" stroke-width="0.4" >0</text>
<line x1="485.10" y1="500.16" x2="493.90" y2="500.16" stroke="#000" stroke-width="2.2" />
<text x="483.60" y="505.16" font-size="14" text-anchor="end" fill="#000" stroke="#000" stroke-width="0.4" >20</text>
<line x1="530.42" y1="536.70" x2="530.42" y2="544.90" stroke="#000" stroke-width="2.2" />
<text x="530.42" y="560.50" font-size="14" text-anchor="middle" fill="#000" stroke="#000" stroke-width="0.4" >20</text>
<line x1="485.10" y1="463.62" x2="493.90" y2="463.62" stroke="#000" stroke-width="2.2" />
<text x="483.60" y="468.62" font-size="14" text-anchor="end" fill="#000" stroke="#000" stroke-width="0.4" >40</text>
<line x1="566.94" y1="536.70" x2="566.94" y2="544.90" stroke="#000" stroke-width="2.2" />
<text x="566.94" y="560.50" font-size="14" text-anchor="middle" fill="#000" stroke="#000" stroke-width="0.4" >40</text>
<line x1="485.10" y1="427.08" x2="493.90" y2="427.08" stroke="#000" stroke-width="2.2" />
<text x="483.60" y="432.08" font-size="14" text-anchor="end" fill="#000" stroke="#000" stroke-width="0.4" >60</text>
<line x1="603.46" y1="536.70" x2="603.46" y2="544.90" stroke="#000" stroke-width="2.2" />
<text x="603.46" y="560.50" font-size="14" text-anchor="middle" fill="#000" stroke="#000" stroke-width="0.4" >60</text>
<line x1="485.10" y1="390.54" x2="493.90" y2="390.54" stroke="#000" stroke-width="2.2" />
<text x="483.60" y="395.54" font-size="14" text-anchor="end" fill="#000" stroke="#000" stroke-width="0.4" >80</text>
<line x1="639.98" y1="536.70" x2="639.98" y2="544.90" stroke="#000" stroke-width="2.2" />
<text x="639.98" y="560.50" font-size="14" text-anchor="middle" fill="#000" stroke="#000" stroke-width="0.4" >80</text>
<line x1="485.10" y1="354.00" x2="493.90" y2="354.00" stroke="#000" stroke-width="2.2" />
<text x="483.60" y="359.00" font-size="14" text-anchor="end" fill="#000" stroke="#000" stroke-width="0.4" >100</text>
<line x1="676.50" y1="536.70" x2="676.50" y2="544.90" stroke="#000" stroke-width="2.2" />
<text x="676.50" y="560.50" font-size="14" text-anchor="middle" fill="#000" stroke="#000" stroke-width="0.4" >100</text>
<text x="585.50" y="583.50" font-size="14" text-anchor="middle" fill="#000" stroke="#000" stroke-width="0.4" >100% - Specificity%</text>
<text x="452.00" y="446.50" font-size="14" text-anchor="middle" fill="#000" stroke="#000" stroke-width="0.4" transform="rotate(-90 452.00 446.50)" >Sensitivity%</text>
<text x="569.00" y="509.00" font-size="14" text-anchor="start" fill="#000" stroke="#000" stroke-width="0.4" >AUC</text>
<text x="628.50" y="509.00" font-size="14" text-anchor="start" fill="#000" stroke="#000" stroke-width="0.4" >0.9244</text>
<text x="569.00" y="526.20" font-size="14" text-anchor="start" fill="#000" stroke="#000" stroke-width="0.4" >P value</text>
<text x="628.50" y="526.20" font-size="14" text-anchor="start" fill="#000" stroke="#000" stroke-width="0.4" >0.0013</text>
<text x="585.50" y="315.00" font-size="14" text-anchor="middle" fill="#000" stroke="#000" stroke-width="0.4" >ROC of LCP1-irAE</text>
<text x="585.00" y="331.00" font-size="14" text-anchor="middle" fill="#000" stroke="#000" stroke-width="0.4" >(osteosarcoma)</text>
<text x="93.10" y="631.40" font-size="14" text-anchor="start" fill="#000" stroke="#000" stroke-width="0.4" >Bone malignancy</text>
<line x1="62.20" y1="653.50" x2="62.20" y2="855.40" stroke="#000" stroke-width="2.5" />
<line x1="61.10" y1="854.40" x2="233.50" y2="854.40" stroke="#000" stroke-width="2.5" />
<line x1="53.70" y1="854.40" x2="62.20" y2="854.40" stroke="#000" stroke-width="2.5" />
<text x="52.20" y="859.40" font-size="14" text-anchor="end" fill="#000" stroke="#000" stroke-width="0.4" >0.0</text>
<line x1="53.70" y1="804.42" x2="62.20" y2="804.42" stroke="#000" stroke-width="2.5" />
<text x="52.20" y="809.42" font-size="14" text-anchor="end" fill="#000" stroke="#000" stroke-width="0.4" >0.2</text>
<line x1="53.70" y1="754.45" x2="62.20" y2="754.45" stroke="#000" stroke-width="2.5" />
<text x="52.20" y="759.45" font-size="14" text-anchor="end" fill="#000" stroke="#000" stroke-width="0.4" >0.4</text>
<line x1="53.70" y1="704.48" x2="62.20" y2="704.48" stroke="#000" stroke-width="2.5" />
<text x="52.20" y="709.48" font-size="14" text-anchor="end" fill="#000" stroke="#000" stroke-width="0.4" >0.6</text>
<line x1="53.70" y1="654.50" x2="62.20" y2="654.50" stroke="#000" stroke-width="2.5" />
<text x="52.20" y="659.50" font-size="14" text-anchor="end" fill="#000" stroke="#000" stroke-width="0.4" >0.8</text>
<path d="M76.90,854.40 L76.90,830.15 L99.20,830.15 L99.20,854.40" fill="none" stroke="#000" stroke-width="2.9" stroke-linejoin="miter"/>
<path d="M115.65,854.40 L115.65,770.55 L138.25,770.55 L138.25,854.40" fill="none" stroke="#EE3E42" stroke-width="2.9" stroke-linejoin="miter"/>
<path d="M155.00,854.40 L155.00,817.15 L177.30,817.15 L177.30,854.40" fill="none" stroke="#000" stroke-width="2.9" stroke-linejoin="miter"/>
<path d="M193.90,854.40 L193.90,802.55 L216.00,802.55 L216.00,854.40" fill="none" stroke="#EE3E42" stroke-width="2.9" stroke-linejoin="miter"/>
<line x1="88.05" y1="854.40" x2="88.05" y2="863.10" stroke="#000" stroke-width="2.5" />
<line x1="126.95" y1="854.40" x2="126.95" y2="863.10" stroke="#000" stroke-width="2.5" />
<line x1="166.15" y1="854.40" x2="166.15" y2="863.10" stroke="#000" stroke-width="2.5" />
<line x1="204.95" y1="854.40" x2="204.95" y2="863.10" stroke="#000" stroke-width="2.5" />
<circle cx="87.80" cy="707.90" r="3.2" fill="#000"/>
<circle cx="87.80" cy="754.00" r="3.2" fill="#000"/>
<circle cx="87.80" cy="757.30" r="3.2" fill="#000"/>
<circle cx="88.00" cy="790.90" r="3.2" fill="#000"/>
<circle cx="88.00" cy="799.70" r="3.2" fill="#000"/>
<circle cx="88.00" cy="816.90" r="3.2" fill="#000"/>
<circle cx="88.00" cy="819.00" r="3.2" fill="#000"/>
<circle cx="88.00" cy="835.30" r="3.2" fill="#000"/>
<circle cx="87.50" cy="839.50" r="3.2" fill="#000"/>
<circle cx="88.00" cy="844.80" r="3.2" fill="#000"/>
<circle cx="80.00" cy="846.50" r="3.2" fill="#000"/>
<circle cx="84.00" cy="846.00" r="3.2" fill="#000"/>
<circle cx="92.00" cy="847.00" r="3.2" fill="#000"/>
<circle cx="95.50" cy="849.00" r="3.2" fill="#000"/>
<circle cx="80.00" cy="849.50" r="3.2" fill="#000"/>
<circle cx="85.00" cy="849.50" r="3.2" fill="#000"/>
<circle cx="90.00" cy="850.00" r="3.2" fill="#000"/>
<circle cx="95.00" cy="851.00" r="3.2" fill="#000"/>
<circle cx="82.00" cy="851.50" r="3.2" fill="#000"/>
<circle cx="88.00" cy="851.50" r="3.2" fill="#000"/>
<line x1="87.80" y1="788.70" x2="87.80" y2="829.00" stroke="#000" stroke-width="1.6" />
<line x1="81.50" y1="788.70" x2="94.10" y2="788.70" stroke="#000" stroke-width="1.6" />
<circle cx="127.10" cy="718.00" r="3.2" fill="#EE3E42"/>
<circle cx="127.10" cy="738.20" r="3.2" fill="#EE3E42"/>
<circle cx="121.30" cy="749.50" r="3.2" fill="#EE3E42"/>
<circle cx="132.60" cy="747.90" r="3.2" fill="#EE3E42"/>
<circle cx="121.30" cy="763.60" r="3.2" fill="#EE3E42"/>
<circle cx="132.60" cy="765.90" r="3.2" fill="#EE3E42"/>
<circle cx="121.30" cy="789.90" r="3.2" fill="#EE3E42"/>
<circle cx="132.60" cy="794.40" r="3.2" fill="#EE3E42"/>
<circle cx="127.10" cy="853.40" r="3.2" fill="#EE3E42"/>
<line x1="127.10" y1="730.00" x2="127.10" y2="809.00" stroke="#EE3E42" stroke-width="1.6" />
<line x1="120.80" y1="730.00" x2="133.40" y2="730.00" stroke="#EE3E42" stroke-width="1.6" />
<line x1="120.80" y1="809.00" x2="133.40" y2="809.00" stroke="#EE3E42" stroke-width="1.6" />
<rect x="162.70" y="722.90" width="6" height="6" fill="#000"/>
<rect x="162.70" y="737.50" width="6" height="6" fill="#000"/>
<rect x="161.50" y="743.10" width="6" height="6" fill="#000"/>
<rect x="164.50" y="748.70" width="6" height="6" fill="#000"/>
<rect x="166.30" y="775.00" width="6" height="6" fill="#000"/>
<rect x="159.90" y="780.70" width="6" height="6" fill="#000"/>
<rect x="164.60" y="786.80" width="6" height="6" fill="#000"/>
<rect x="160.20" y="808.50" width="6" height="6" fill="#000"/>
<rect x="166.20" y="808.50" width="6" height="6" fill="#000"/>
<path d="M155.8,818.0 H176.5 V854 H155.8 Z" fill="#000"/>
<rect x="156.5" y="818.6" width="3.60" height="8.00" fill="#fff"/>
<rect x="167.6" y="818.6" width="8.20" height="7.10" fill="#fff"/>
<rect x="163" y="830.5" width="2.00" height="2.00" fill="#fff"/>
<rect x="156.8" y="835.5" width="2.70" height="2.00" fill="#fff"/>
<rect x="172.3" y="831.3" width="2.70" height="2.00" fill="#fff"/>
<rect x="169.5" y="839.8" width="6.00" height="1.70" fill="#fff"/>
<rect x="162.5" y="847.3" width="2.00" height="2.00" fill="#fff"/>
<rect x="156.8" y="850" width="2.20" height="2.00" fill="#fff"/>
<rect x="173.3" y="850" width="2.20" height="2.00" fill="#fff"/>
<line x1="165.90" y1="778.00" x2="165.90" y2="815.00" stroke="#000" stroke-width="1.6" />
<line x1="159.60" y1="778.00" x2="172.20" y2="778.00" stroke="#000" stroke-width="1.6" />
<rect x="202.25" y="769.65" width="5.9" height="5.9" fill="#EE3E42"/>
<rect x="192.75" y="776.85" width="5.9" height="5.9" fill="#EE3E42"/>
<rect x="211.25" y="782.45" width="5.9" height="5.9" fill="#EE3E42"/>
<rect x="192.75" y="785.75" width="5.9" height="5.9" fill="#EE3E42"/>
<rect x="211.25" y="790.25" width="5.9" height="5.9" fill="#EE3E42"/>
<rect x="202.25" y="792.05" width="5.9" height="5.9" fill="#EE3E42"/>
<rect x="202.25" y="803.75" width="5.9" height="5.9" fill="#EE3E42"/>
<rect x="202.25" y="826.15" width="5.9" height="5.9" fill="#EE3E42"/>
<rect x="202.25" y="848.15" width="5.9" height="5.9" fill="#EE3E42"/>
<line x1="205.20" y1="775.30" x2="205.20" y2="825.80" stroke="#EE3E42" stroke-width="1.6" />
<line x1="198.90" y1="775.30" x2="211.50" y2="775.30" stroke="#EE3E42" stroke-width="1.6" />
<line x1="198.90" y1="825.80" x2="211.50" y2="825.80" stroke="#EE3E42" stroke-width="1.6" />
<polyline points="87.50,698.70 87.50,684.50 127.20,684.50 127.20,698.70" fill="none" stroke="#000" stroke-width="2.4" stroke-linejoin="miter"/>
<text x="107.50" y="676.00" font-size="14" text-anchor="middle" fill="#EE3E42" stroke="#EE3E42" stroke-width="0.4" >0.0004</text>
<text x="23.00" y="755.00" font-size="14" text-anchor="middle" fill="#000" stroke="#000" stroke-width="0.4" transform="rotate(-90 23.00 755.00)" >Positivity</text>
<text x="92.55" y="874.30" font-size="14" text-anchor="end" fill="#000" stroke="#000" stroke-width="0.4" transform="rotate(-45 92.55 874.30)" >Non-irAE</text>
<text x="131.45" y="874.30" font-size="14" text-anchor="end" fill="#000" stroke="#000" stroke-width="0.4" transform="rotate(-45 131.45 874.30)" >irAE</text>
<text x="170.65" y="874.30" font-size="14" text-anchor="end" fill="#000" stroke="#000" stroke-width="0.4" transform="rotate(-45 170.65 874.30)" >Non-irAE</text>
<text x="209.45" y="874.30" font-size="14" text-anchor="end" fill="#000" stroke="#000" stroke-width="0.4" transform="rotate(-45 209.45 874.30)" >irAE</text>
<text x="82.10" y="933.30" font-size="14" text-anchor="middle" fill="#000" stroke="#000" stroke-width="0.4" >N=28 N=9</text>
<text x="162.10" y="933.30" font-size="14" text-anchor="middle" fill="#000" stroke="#000" stroke-width="0.4" >N=28 N=9</text>
<line x1="42.90" y1="937.70" x2="118.20" y2="937.70" stroke="#000" stroke-width="1.9" />
<line x1="126.30" y1="937.70" x2="202.10" y2="937.70" stroke="#000" stroke-width="1.9" />
<text x="81.50" y="953.00" font-size="14" text-anchor="middle" fill="#000" stroke="#000" stroke-width="0.4" >LCP1</text>
<text x="166.30" y="953.00" font-size="14" text-anchor="middle" fill="#000" stroke="#000" stroke-width="0.4" >ADPGK</text>
<text x="309.30" y="631.40" font-size="14" text-anchor="start" fill="#000" stroke="#000" stroke-width="0.4" >Soft tissue Tumor</text>
<line x1="279.20" y1="653.00" x2="279.20" y2="854.80" stroke="#000" stroke-width="2.5" />
<line x1="278.10" y1="853.80" x2="450.20" y2="853.80" stroke="#000" stroke-width="2.5" />
<line x1="270.70" y1="853.80" x2="279.20" y2="853.80" stroke="#000" stroke-width="2.5" />
<text x="269.20" y="858.80" font-size="14" text-anchor="end" fill="#000" stroke="#000" stroke-width="0.4" >0.0</text>
<line x1="270.70" y1="803.85" x2="279.20" y2="803.85" stroke="#000" stroke-width="2.5" />
<text x="269.20" y="808.85" font-size="14" text-anchor="end" fill="#000" stroke="#000" stroke-width="0.4" >0.2</text>
<line x1="270.70" y1="753.90" x2="279.20" y2="753.90" stroke="#000" stroke-width="2.5" />
<text x="269.20" y="758.90" font-size="14" text-anchor="end" fill="#000" stroke="#000" stroke-width="0.4" >0.4</text>
<line x1="270.70" y1="703.95" x2="279.20" y2="703.95" stroke="#000" stroke-width="2.5" />
<text x="269.20" y="708.95" font-size="14" text-anchor="end" fill="#000" stroke="#000" stroke-width="0.4" >0.6</text>
<line x1="270.70" y1="654.00" x2="279.20" y2="654.00" stroke="#000" stroke-width="2.5" />
<text x="269.20" y="659.00" font-size="14" text-anchor="end" fill="#000" stroke="#000" stroke-width="0.4" >0.8</text>
<path d="M293.65,853.80 L293.65,803.15 L316.35,803.15 L316.35,853.80" fill="none" stroke="#000" stroke-width="2.9" stroke-linejoin="miter"/>
<path d="M332.45,853.80 L332.45,772.95 L354.75,772.95 L354.75,853.80" fill="none" stroke="#EE3E42" stroke-width="2.9" stroke-linejoin="miter"/>
<path d="M371.65,853.80 L371.65,804.15 L394.05,804.15 L394.05,853.80" fill="none" stroke="#000" stroke-width="2.9" stroke-linejoin="miter"/>
<path d="M410.65,853.80 L410.65,776.05 L433.05,776.05 L433.05,853.80" fill="none" stroke="#EE3E42" stroke-width="2.9" stroke-linejoin="miter"/>
<line x1="305.00" y1="853.80" x2="305.00" y2="862.50" stroke="#000" stroke-width="2.5" />
<line x1="343.60" y1="853.80" x2="343.60" y2="862.50" stroke="#000" stroke-width="2.5" />
<line x1="382.85" y1="853.80" x2="382.85" y2="862.50" stroke="#000" stroke-width="2.5" />
<line x1="421.85" y1="853.80" x2="421.85" y2="862.50" stroke="#000" stroke-width="2.5" />
<circle cx="298.70" cy="732.30" r="3.2" fill="#000"/>
<circle cx="311.10" cy="727.50" r="3.2" fill="#000"/>
<circle cx="298.70" cy="779.40" r="3.2" fill="#000"/>
<circle cx="310.50" cy="777.10" r="3.2" fill="#000"/>
<circle cx="304.90" cy="808.00" r="3.2" fill="#000"/>
<circle cx="304.90" cy="814.40" r="3.2" fill="#000"/>
<circle cx="298.70" cy="837.40" r="3.2" fill="#000"/>
<circle cx="310.50" cy="837.40" r="3.2" fill="#000"/>
<circle cx="298.70" cy="849.00" r="3.2" fill="#000"/>
<circle cx="310.50" cy="849.00" r="3.2" fill="#000"/>
<line x1="304.90" y1="755.50" x2="304.90" y2="849.50" stroke="#000" stroke-width="1.6" />
<line x1="297.90" y1="755.50" x2="311.90" y2="755.50" stroke="#000" stroke-width="1.6" />
<line x1="297.90" y1="849.50" x2="311.90" y2="849.50" stroke="#000" stroke-width="1.6" />
<circle cx="343.60" cy="714.00" r="3.2" fill="#EE3E42"/>
<circle cx="343.60" cy="769.60" r="3.2" fill="#EE3E42"/>
<circle cx="343.60" cy="829.00" r="3.2" fill="#EE3E42"/>
<line x1="343.60" y1="713.50" x2="343.60" y2="828.50" stroke="#EE3E42" stroke-width="1.6" />
<line x1="336.60" y1="713.50" x2="350.60" y2="713.50" stroke="#EE3E42" stroke-width="1.6" />
<line x1="336.60" y1="828.50" x2="350.60" y2="828.50" stroke="#EE3E42" stroke-width="1.6" />
<rect x="379.65" y="752.55" width="5.9" height="5.9" fill="#000"/>
<rect x="373.45" y="769.45" width="5.9" height="5.9" fill="#000"/>
<rect x="373.45" y="775.55" width="5.9" height="5.9" fill="#000"/>
<rect x="386.05" y="772.75" width="5.9" height="5.9" fill="#000"/>
<rect x="379.65" y="795.25" width="5.9" height="5.9" fill="#000"/>
<rect x="379.65" y="803.05" width="5.9" height="5.9" fill="#000"/>
<rect x="379.65" y="812.05" width="5.9" height="5.9" fill="#000"/>
<rect x="379.65" y="819.95" width="5.9" height="5.9" fill="#000"/>
<rect x="379.65" y="835.95" width="5.9" height="5.9" fill="#000"/>
<rect x="379.65" y="848.05" width="5.9" height="5.9" fill="#000"/>
<line x1="382.70" y1="770.10" x2="382.70" y2="833.20" stroke="#000" stroke-width="1.6" />
<line x1="375.70" y1="770.10" x2="389.70" y2="770.10" stroke="#000" stroke-width="1.6" />
<line x1="375.70" y1="833.20" x2="389.70" y2="833.20" stroke="#000" stroke-width="1.6" />
<rect x="418.95" y="705.45" width="5.9" height="5.9" fill="#EE3E42"/>
<rect x="418.95" y="755.95" width="5.9" height="5.9" fill="#EE3E42"/>
<rect x="418.95" y="850.25" width="5.9" height="5.9" fill="#EE3E42"/>
<line x1="421.90" y1="700.50" x2="421.90" y2="846.70" stroke="#EE3E42" stroke-width="1.6" />
<line x1="414.90" y1="700.50" x2="428.90" y2="700.50" stroke="#EE3E42" stroke-width="1.6" />
<line x1="414.90" y1="846.70" x2="428.90" y2="846.70" stroke="#EE3E42" stroke-width="1.6" />
<text x="240.50" y="754.30" font-size="14" text-anchor="middle" fill="#000" stroke="#000" stroke-width="0.4" transform="rotate(-90 240.50 754.30)" >Positivity</text>
<text x="310.00" y="874.50" font-size="14" text-anchor="end" fill="#000" stroke="#000" stroke-width="0.4" transform="rotate(-45 310.00 874.50)" >Non-irAE</text>
<text x="348.60" y="874.50" font-size="14" text-anchor="end" fill="#000" stroke="#000" stroke-width="0.4" transform="rotate(-45 348.60 874.50)" >irAE</text>
<text x="387.85" y="874.50" font-size="14" text-anchor="end" fill="#000" stroke="#000" stroke-width="0.4" transform="rotate(-45 387.85 874.50)" >Non-irAE</text>
<text x="426.85" y="874.50" font-size="14" text-anchor="end" fill="#000" stroke="#000" stroke-width="0.4" transform="rotate(-45 426.85 874.50)" >irAE</text>
<text x="294.60" y="932.50" font-size="14" text-anchor="middle" fill="#000" stroke="#000" stroke-width="0.4" >N=10 N=3</text>
<text x="374.80" y="932.50" font-size="14" text-anchor="middle" fill="#000" stroke="#000" stroke-width="0.4" >N=10 N=3</text>
<line x1="257.10" y1="937.70" x2="332.40" y2="937.70" stroke="#000" stroke-width="1.9" />
<line x1="338.00" y1="937.70" x2="413.60" y2="937.70" stroke="#000" stroke-width="1.9" />
<text x="296.20" y="953.00" font-size="14" text-anchor="middle" fill="#000" stroke="#000" stroke-width="0.4" >LCP1</text>
<text x="377.20" y="953.00" font-size="14" text-anchor="middle" fill="#000" stroke="#000" stroke-width="0.4" >ADPGK</text>
<line x1="497.60" y1="846.70" x2="686.80" y2="656.70" stroke="#D63C55" stroke-width="1.1" stroke-dasharray="1.3 1.0"/>
<polyline points="497.60,846.70 504.36,846.70 504.36,762.26 524.63,762.26 524.63,698.92 531.39,698.92 531.39,677.81 666.53,677.81 666.53,656.70 686.80,656.70" fill="none" stroke="#000" stroke-width="1.25" />
<line x1="497.60" y1="655.70" x2="497.60" y2="847.70" stroke="#000" stroke-width="2.2" />
<line x1="496.50" y1="846.70" x2="687.90" y2="846.70" stroke="#000" stroke-width="2.2" />
<line x1="488.80" y1="846.70" x2="497.60" y2="846.70" stroke="#000" stroke-width="2.2" />
<text x="487.30" y="851.70" font-size="14" text-anchor="end" fill="#000" stroke="#000" stroke-width="0.4" >0</text>
<line x1="497.60" y1="846.70" x2="497.60" y2="854.90" stroke="#000" stroke-width="2.2" />
<text x="497.60" y="870.00" font-size="14" text-anchor="middle" fill="#000" stroke="#000" stroke-width="0.4" >0</text>
<line x1="488.80" y1="808.70" x2="497.60" y2="808.70" stroke="#000" stroke-width="2.2" />
<text x="487.30" y="813.70" font-size="14" text-anchor="end" fill="#000" stroke="#000" stroke-width="0.4" >20</text>
<line x1="535.44" y1="846.70" x2="535.44" y2="854.90" stroke="#000" stroke-width="2.2" />
<text x="535.44" y="870.00" font-size="14" text-anchor="middle" fill="#000" stroke="#000" stroke-width="0.4" >20</text>
<line x1="488.80" y1="770.70" x2="497.60" y2="770.70" stroke="#000" stroke-width="2.2" />
<text x="487.30" y="775.70" font-size="14" text-anchor="end" fill="#000" stroke="#000" stroke-width="0.4" >40</text>
<line x1="573.28" y1="846.70" x2="573.28" y2="854.90" stroke="#000" stroke-width="2.2" />
<text x="573.28" y="870.00" font-size="14" text-anchor="middle" fill="#000" stroke="#000" stroke-width="0.4" >40</text>
<line x1="488.80" y1="732.70" x2="497.60" y2="732.70" stroke="#000" stroke-width="2.2" />
<text x="487.30" y="737.70" font-size="14" text-anchor="end" fill="#000" stroke="#000" stroke-width="0.4" >60</text>
<line x1="611.12" y1="846.70" x2="611.12" y2="854.90" stroke="#000" stroke-width="2.2" />
<text x="611.12" y="870.00" font-size="14" text-anchor="middle" fill="#000" stroke="#000" stroke-width="0.4" >60</text>
<line x1="488.80" y1="694.70" x2="497.60" y2="694.70" stroke="#000" stroke-width="2.2" />
<text x="487.30" y="699.70" font-size="14" text-anchor="end" fill="#000" stroke="#000" stroke-width="0.4" >80</text>
<line x1="648.96" y1="846.70" x2="648.96" y2="854.90" stroke="#000" stroke-width="2.2" />
<text x="648.96" y="870.00" font-size="14" text-anchor="middle" fill="#000" stroke="#000" stroke-width="0.4" >80</text>
<line x1="488.80" y1="656.70" x2="497.60" y2="656.70" stroke="#000" stroke-width="2.2" />
<text x="487.30" y="661.70" font-size="14" text-anchor="end" fill="#000" stroke="#000" stroke-width="0.4" >100</text>
<line x1="686.80" y1="846.70" x2="686.80" y2="854.90" stroke="#000" stroke-width="2.2" />
<text x="686.80" y="870.00" font-size="14" text-anchor="middle" fill="#000" stroke="#000" stroke-width="0.4" >100</text>
<text x="592.30" y="890.20" font-size="13.2" text-anchor="middle" fill="#000" stroke="#000" stroke-width="0.4" >100% - Specificity%</text>
<text x="457.40" y="751.80" font-size="13.3" text-anchor="middle" fill="#000" stroke="#000" stroke-width="0.4" transform="rotate(-90 457.40 751.80)" >Sensitivity%</text>
<text x="581.00" y="821.80" font-size="14" text-anchor="start" fill="#000" stroke="#000" stroke-width="0.4" >AUC</text>
<text x="640.30" y="821.80" font-size="14" text-anchor="start" fill="#000" stroke="#000" stroke-width="0.4" >0.8175</text>
<text x="581.00" y="839.60" font-size="14" text-anchor="start" fill="#000" stroke="#000" stroke-width="0.4" >P value</text>
<text x="640.30" y="839.60" font-size="14" text-anchor="start" fill="#000" stroke="#000" stroke-width="0.4" >0.0046</text>
<text x="592.45" y="619.80" font-size="13.3" text-anchor="middle" fill="#000" stroke="#000" stroke-width="0.4" >ROC of LCP1-irAE</text>
<text x="592.45" y="634.90" font-size="13.3" text-anchor="middle" fill="#000" stroke="#000" stroke-width="0.4" >(Bone malignancy)</text>
</svg>
</body></html>
